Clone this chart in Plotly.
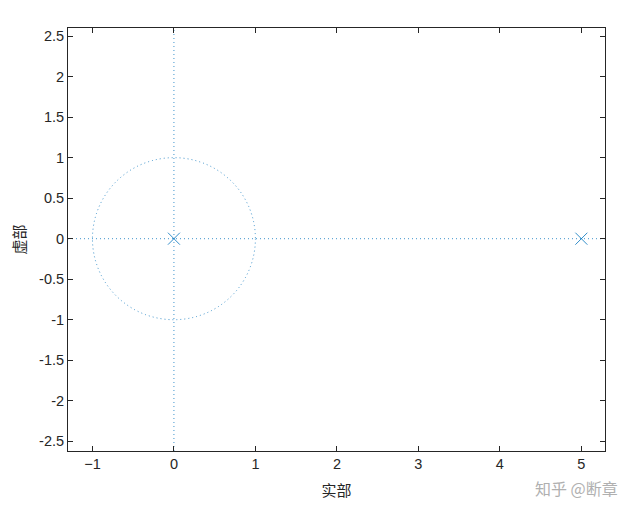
import plotly.graph_objects as go

# poles of the system (real and imaginary parts)
pole_re = [0, 5]
pole_im = [0, 0]
unit_r = 1
x_ticks = [-1, 0, 1, 2, 3, 4, 5]
y_ticks = [-2.5, -2, -1.5, -1, -0.5, 0, 0.5, 1, 1.5, 2, 2.5]
y_labels = ['-2.5', '-2', '-1.5', '-1', '-0.5', '0', '0.5', '1', '1.5', '2', '2.5']

blue = '#0072BD'
axcol = '#262626'
dots = dict(color=blue, width=1, dash='1px,3px')

fig = go.Figure()
fig.add_trace(go.Scatter(
    x=pole_re, y=pole_im, mode='markers',
    marker=dict(symbol='x-thin-open', size=12, color=blue, opacity=0.8,
                line=dict(width=1, color=blue)),
    showlegend=False,
))

# unit circle and dotted axis lines
fig.add_shape(type='circle', xref='x', yref='y', x0=-unit_r, y0=-unit_r, x1=unit_r, y1=unit_r,
              line=dots, opacity=0.75, layer='below')
fig.add_shape(type='line', xref='x domain', yref='y', x0=0, x1=1, y0=0, y1=0,
              line=dots, opacity=0.75, layer='below')
fig.add_shape(type='line', xref='x', yref='y domain', x0=0, x1=0, y0=0, y1=1,
              line=dots, opacity=0.75, layer='below')

axis_style = dict(
    showgrid=False, zeroline=False, showline=True, linecolor=axcol, linewidth=1,
    mirror='ticks', ticks='inside', ticklen=5, tickcolor=axcol, automargin=False,
    tickfont=dict(family='Liberation Sans, Arial', size=14.5, color=axcol),
)
fig.update_xaxes(range=[-1.3, 5.29], tickvals=x_ticks,
                 title=dict(text='实部', font=dict(family='Noto Sans CJK SC', size=15, color=axcol), standoff=14),
                 **axis_style)
fig.update_yaxes(range=[-2.62, 2.6], tickvals=y_ticks, ticktext=y_labels,
                 title=dict(text='虚部', font=dict(family='Noto Sans CJK SC', size=15, color=axcol), standoff=12),
                 **axis_style)

fig.add_annotation(text='知乎 @断章', xref='paper', yref='paper', x=1.028, y=-0.087,
                   xanchor='right', yanchor='middle', showarrow=False,
                   font=dict(family='Noto Sans CJK SC', size=16, color='#b0b0b0'))

fig.update_layout(
    width=637, height=510,
    margin=dict(l=60, r=40, t=20, b=67),
    plot_bgcolor='white', paper_bgcolor='white',
)
fig.write_html('out.html')
